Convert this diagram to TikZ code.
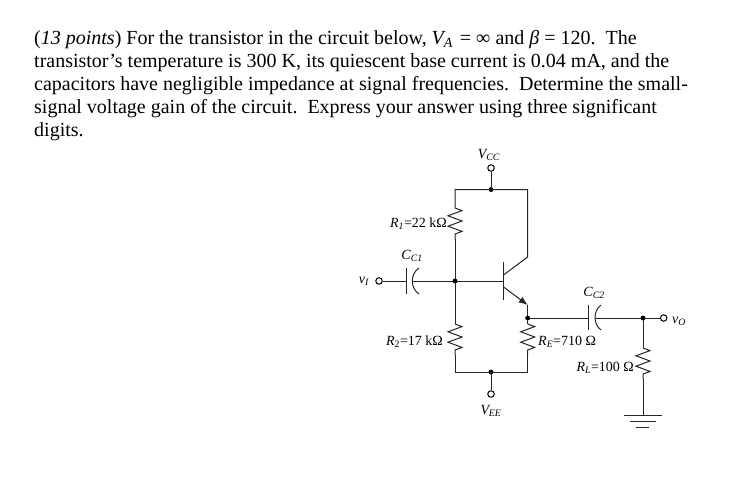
\documentclass[tikz,border=0pt]{standalone}
\usepackage{fontspec}
\setmainfont{Liberation Serif}
\usetikzlibrary{arrows.meta}
\usetikzlibrary{decorations.pathmorphing}
\tikzset{
    point/.style = {circle, draw, inner sep=0pt, minimum size=4.4pt, fill, node contents={}},
    terminal/.style = {circle, draw, inner sep=0pt, minimum size=6.5pt, fill=white, line width=1pt, node contents={}},
    res/.style = {decorate, decoration={zigzag, segment length=10.4pt, amplitude=7pt}},
    wire/.style = {line width=1pt, draw=black!85},
    problem/.style = {anchor=base west, inner sep=0pt, font=\fontsize{20}{23}\selectfont},
    lbl/.style = {inner sep=0pt, font=\fontsize{14}{15}\selectfont},
}
\newcommand{\lblsub}[1]{\textsubscript{\textit{#1}}}
\newcommand{\lblv}{\textit{V}\kern-1.5pt}
\begin{document}
\begin{tikzpicture}[x=1pt,y=-1pt]
    \useasboundingbox (0,0) rectangle (744,485);
    % question text
    \node (line1) at (34,44.5) [problem] {(\textit{13 points}) For the transistor in the circuit below, \textit{V}\kern-2pt\lblsub{A}\kern2pt{} = ∞ and \textit{β} = 120.\ \ The};
    \node (line2) at (34,67) [problem] {transistor’s temperature is 300 K, its quiescent base current is 0.04 mA, and the};
    \node (line3) at (34,90) [problem] {capacitors have negligible impedance at signal frequencies.\ \ Determine the small-};
    \node (line4) at (34,113) [problem] {signal voltage gain of the circuit.\ \ Express your answer using three significant};
    \node (line5) at (34,136) [problem] {digits.};
    % corners and component ends
    \coordinate (tl) at (455,189.5);
    \coordinate (tr) at (527.7,189.5);
    \coordinate (bl) at (455,372);
    \coordinate (br) at (527.7,372);
    \coordinate (r1a) at (455,208);
    \coordinate (r1b) at (455,239);
    \coordinate (r2a) at (455,324);
    \coordinate (r2b) at (455,355);
    \coordinate (rea) at (527.7,324);
    \coordinate (reb) at (527.7,355);
    \coordinate (rla) at (643,348);
    \coordinate (rlb) at (643,379);
    \coordinate (gnd) at (643,415);
    \coordinate (bb) at (503.5,281);
    \coordinate (cin) at (503.5,275);
    \coordinate (ein) at (503.5,287);
    \coordinate (cout) at (527.7,257);
    \coordinate (eout) at (527.7,305);
    \coordinate (c1a) at (406,281);
    \coordinate (c1b) at (412,281);
    \coordinate (c2a) at (588,318);
    \coordinate (c2b) at (595,318);
    % junctions and terminals
    \node (vcc) at (491,168) [terminal];
    \node (top) at (491,189.5) [point];
    \node (base) at (455,281) [point];
    \node (vi) at (379,281) [terminal];
    \node (emit) at (527.7,318) [point];
    \node (bot) at (491,372) [point];
    \node (vee) at (491,394) [terminal];
    \node (out) at (643,318) [point];
    \node (vo) at (663.7,318) [terminal];
    \begin{scope}[wire]
        \draw (vcc) -- (top);
        \draw (r1a) -- (tl) -- (tr) -- (cout) -- (cin);
        \draw[res] (r1a) -- (r1b);
        \draw (r1b) -- (base) -- (r2a);
        \draw[res] (r2a) -- (r2b);
        \draw (r2b) -- (bl) -- (br) -- (reb);
        \draw[res] (rea) -- (reb);
        \draw (rea) -- (emit);
        \draw (bot) -- (vee);
        \draw (vi) -- (c1a);
        \draw (c1b) -- (base) -- (bb);
        \draw (503.5,262) -- (503.5,300);
        \draw (406,268) -- (406,294);
        \draw (419,268) .. controls (410,274) and (410,288) .. (419,294);
        \draw[-{Latex[length=9pt,width=7pt]}] (ein) -- (eout);
        \draw (eout) -- (emit);
        \draw (emit) -- (c2a);
        \draw (588,305) -- (588,330);
        \draw (601,305) .. controls (593,311) and (593,324) .. (601,330);
        \draw (c2b) -- (out) -- (vo);
        \draw (out) -- (rla);
        \draw[res] (rla) -- (rlb);
        \draw (rlb) -- (gnd);
        \draw (624,415) -- (662,415);
        \draw (630,421) -- (656,421);
        \draw (636,427) -- (649,427);
    \end{scope}
    % labels
    \node (lvcc) at (489,155) [lbl] {\lblv\lblsub{CC}};
    \node (lr1) at (447,224) [lbl,anchor=east] {\textit{R}\lblsub{1}=22 kΩ};
    \node (lc1) at (412,256) [lbl] {\textit{C}\lblsub{C1}};
    \node (lvi) at (364,281) [lbl] {\textit{v}\lblsub{I}};
    \node (lr2) at (443,342) [lbl,anchor=east] {\textit{R}\textsubscript{2}=17 kΩ};
    \node (lre) at (538,342) [lbl,anchor=west] {\textit{R}\lblsub{E}=710 Ω};
    \node (lrl) at (634,368) [lbl,anchor=east] {\textit{R}\lblsub{L}=100 Ω};
    \node (lc2) at (594,293) [lbl] {\textit{C}\lblsub{C2}};
    \node (lvo) at (679,321) [lbl] {\textit{v}\lblsub{O}};
    \node (lvee) at (491,411) [lbl] {\lblv\lblsub{EE}};
\end{tikzpicture}
\end{document}
